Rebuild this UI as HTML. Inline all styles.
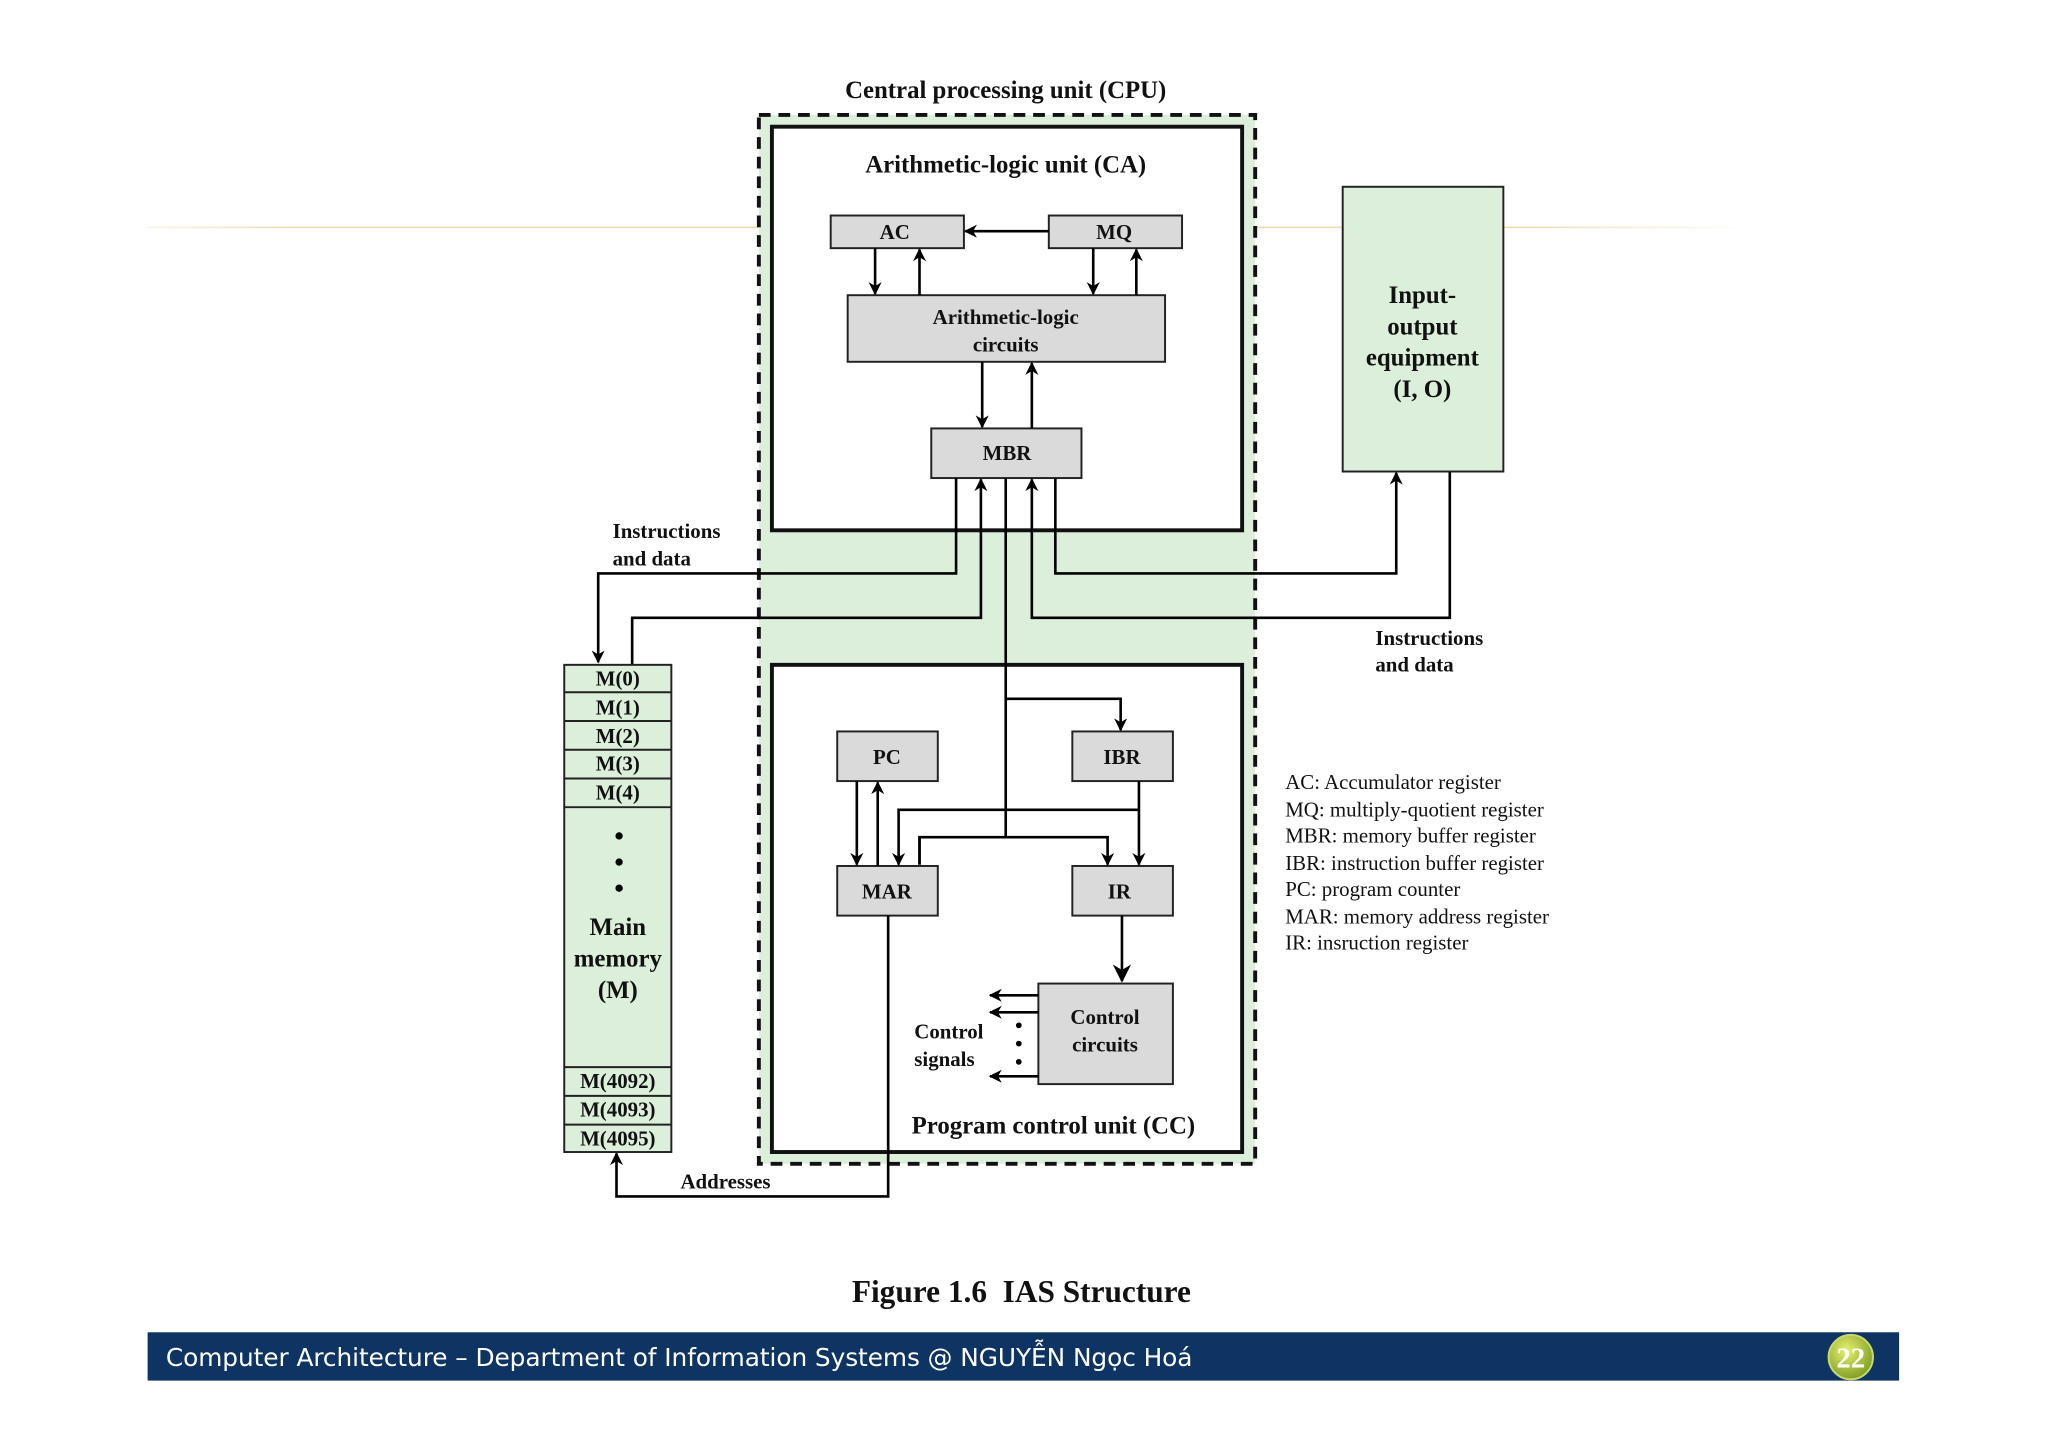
<!DOCTYPE html>
<html><head><meta charset="utf-8"><style>
html,body{margin:0;padding:0;background:#fff;}
svg{display:block;}
text{font-family:"Liberation Serif",serif;font-weight:bold;fill:#111;}
.r{font-weight:normal;}
</style></head><body>
<svg width="2048" height="1448" viewBox="0 0 1568 1108.6" preserveAspectRatio="none" xmlns="http://www.w3.org/2000/svg">
<defs>
<marker id="a" viewBox="0 0 10 10" refX="9" refY="5" markerWidth="13" markerHeight="10" orient="auto-start-reverse" markerUnits="userSpaceOnUse">
<path d="M0,0 L10,5 L0,10 L3,5 z" fill="#000"/></marker>
<marker id="b" viewBox="0 0 10 10" refX="9" refY="5" markerWidth="18" markerHeight="14" orient="auto" markerUnits="userSpaceOnUse">
<path d="M0,0 L10,5 L0,10 L3,5 z" fill="#000"/></marker>
<linearGradient id="og" x1="0" x2="1"><stop offset="0" stop-color="#f0d9a8" stop-opacity="0.3"/><stop offset="0.1" stop-color="#f0d9a8"/><stop offset="0.85" stop-color="#f0d9a8"/><stop offset="1" stop-color="#f0d9a8" stop-opacity="0"/></linearGradient>
<radialGradient id="bg" cx="0.4" cy="0.35" r="0.7"><stop offset="0" stop-color="#e8f070"/><stop offset="1" stop-color="#7a9a20"/></radialGradient>
</defs>
<rect x="113" y="173.5" width="1227" height="1.2" fill="url(#og)"/>
<text x="770" y="75" text-anchor="middle" font-size="19">Central processing unit (CPU)</text>
<rect x="581" y="88" width="380" height="803" fill="#dbefdb" stroke="#111" stroke-width="3" stroke-dasharray="9,6"/>
<rect x="591" y="97" width="360" height="309" fill="#fff" stroke="#111" stroke-width="3"/>
<rect x="591" y="509" width="360" height="373" fill="#fff" stroke="#111" stroke-width="3"/>
<text x="770" y="132" text-anchor="middle" font-size="19">Arithmetic-logic unit (CA)</text>
<g fill="#dadada" stroke="#222" stroke-width="1.5">
<rect x="636" y="165" width="102" height="25"/>
<rect x="803" y="165" width="102" height="25"/>
<rect x="649" y="226" width="243" height="51"/>
<rect x="713" y="328" width="115" height="38"/>
<rect x="641" y="560" width="77" height="38"/>
<rect x="821" y="560" width="77" height="38"/>
<rect x="641" y="663" width="77" height="38"/>
<rect x="821" y="663" width="77" height="38"/>
<rect x="795" y="753" width="103" height="77"/>
</g>
<text x="685" y="183" text-anchor="middle" font-size="16">AC</text>
<text x="853" y="183" text-anchor="middle" font-size="16">MQ</text>
<text x="770" y="248" text-anchor="middle" font-size="16">Arithmetic-logic</text>
<text x="770" y="269" text-anchor="middle" font-size="16">circuits</text>
<text x="771" y="352" text-anchor="middle" font-size="16">MBR</text>
<text x="679" y="585" text-anchor="middle" font-size="16">PC</text>
<text x="859" y="585" text-anchor="middle" font-size="16">IBR</text>
<text x="679" y="688" text-anchor="middle" font-size="16">MAR</text>
<text x="857" y="688" text-anchor="middle" font-size="16">IR</text>
<text x="846" y="784" text-anchor="middle" font-size="16">Control</text>
<text x="846" y="805" text-anchor="middle" font-size="16">circuits</text>
<g stroke="#000" stroke-width="2" fill="none">
<path d="M803,177 H739" marker-end="url(#a)"/>
<path d="M670,190 V225" marker-end="url(#a)"/>
<path d="M704,226 V191" marker-end="url(#a)"/>
<path d="M837,190 V225" marker-end="url(#a)"/>
<path d="M870,226 V191" marker-end="url(#a)"/>
<path d="M752,277 V327" marker-end="url(#a)"/>
<path d="M790,328 V278" marker-end="url(#a)"/>
<path d="M732,366 V439 H458 V507" marker-end="url(#a)"/>
<path d="M484,509 V473 H751 V367" marker-end="url(#a)"/>
<path d="M770,366 V641"/>
<path d="M1110,361 V473 H790 V367" marker-end="url(#a)"/>
<path d="M808,366 V439 H1069 V362" marker-end="url(#a)"/>
<path d="M770,535 H858 V559" marker-end="url(#a)"/>
<path d="M656,598 V662" marker-end="url(#a)"/>
<path d="M672,663 V599" marker-end="url(#a)"/>
<path d="M872,598 V662" marker-end="url(#a)"/>
<path d="M872,620 H688 V662" marker-end="url(#a)"/>
<path d="M704,662 V641 H848 V662" marker-end="url(#a)"/>
<path d="M859,701 V751" marker-end="url(#b)"/>
<path d="M795,762 H758" marker-end="url(#a)"/>
<path d="M795,775 H758" marker-end="url(#a)"/>
<path d="M795,824 H758" marker-end="url(#a)"/>
<path d="M680,701 V916 H472 V883" marker-end="url(#a)"/>
</g>
<path d="M704,641 V662" stroke="#000" stroke-width="2"/>
<circle cx="780" cy="785" r="2.2" fill="#000"/><circle cx="780" cy="799" r="2.2" fill="#000"/><circle cx="780" cy="813" r="2.2" fill="#000"/>
<text x="700" y="795" font-size="16">Control</text>
<text x="700" y="816" font-size="16">signals</text>
<text x="698" y="868" font-size="19">Program control unit (CC)</text>
<rect x="1028" y="143" width="123" height="218" fill="#dbefdb" stroke="#222" stroke-width="1.5"/>
<g font-size="19" text-anchor="middle"><text x="1089" y="232">Input-</text><text x="1089" y="256">output</text><text x="1089" y="280">equipment</text><text x="1089" y="304">(I, O)</text></g>
<text x="469" y="412" font-size="16">Instructions</text><text x="469" y="433" font-size="16">and data</text>
<text x="1053" y="494" font-size="16">Instructions</text><text x="1053" y="514" font-size="16">and data</text>
<rect x="432" y="509" width="82" height="373" fill="#dbefdb" stroke="#222" stroke-width="1.5"/>
<g stroke="#222" stroke-width="1.5">
<line x1="432" x2="514" y1="530" y2="530"/><line x1="432" x2="514" y1="552" y2="552"/><line x1="432" x2="514" y1="574" y2="574"/><line x1="432" x2="514" y1="596" y2="596"/><line x1="432" x2="514" y1="618" y2="618"/><line x1="432" x2="514" y1="817" y2="817"/><line x1="432" x2="514" y1="839" y2="839"/><line x1="432" x2="514" y1="861" y2="861"/>
</g>
<g font-size="16" text-anchor="middle">
<text x="473" y="525">M(0)</text><text x="473" y="547">M(1)</text><text x="473" y="569">M(2)</text><text x="473" y="590">M(3)</text><text x="473" y="612">M(4)</text>
<text x="473" y="833">M(4092)</text><text x="473" y="855">M(4093)</text><text x="473" y="877">M(4095)</text>
</g>
<circle cx="474" cy="640" r="2.8" fill="#000"/><circle cx="474" cy="660" r="2.8" fill="#000"/><circle cx="474" cy="680" r="2.8" fill="#000"/>
<g font-size="19" text-anchor="middle"><text x="473" y="716">Main</text><text x="473" y="740">memory</text><text x="473" y="764">(M)</text></g>
<text x="521" y="910" font-size="16">Addresses</text>
<g font-size="16"><text class="r" x="984" y="604">AC: Accumulator register</text><text class="r" x="984" y="625">MQ: multiply-quotient register</text><text class="r" x="984" y="645">MBR: memory buffer register</text><text class="r" x="984" y="666">IBR: instruction buffer register</text><text class="r" x="984" y="686">PC: program counter</text><text class="r" x="984" y="707">MAR: memory address register</text><text class="r" x="984" y="727">IR: insruction register</text></g>
<text x="782" y="997" text-anchor="middle" font-size="24">Figure 1.6&#160;&#160;IAS Structure</text>
<rect x="113" y="1020" width="1341" height="37" fill="#0d3462"/>
<text x="127" y="1046" font-size="19" style="font-family:'DejaVu Sans','Liberation Sans',sans-serif;font-weight:normal;fill:#fff" textLength="786">Computer Architecture – Department of Information Systems @ NGUYỄN Ngọc Hoá</text>
<circle cx="1417" cy="1039" r="17" fill="url(#bg)" stroke="#c8d870" stroke-width="1.5"/>
<text x="1417" y="1047" text-anchor="middle" font-size="22" style="fill:#fff">22</text>
</svg>
</body></html>
